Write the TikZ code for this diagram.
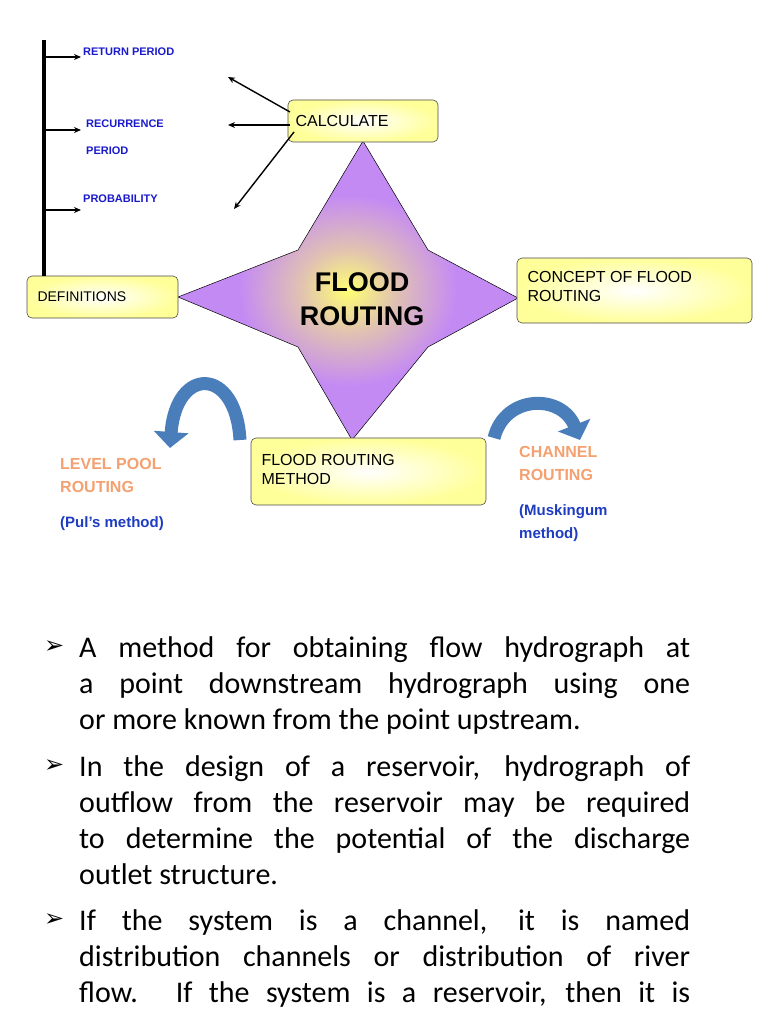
\documentclass[tikz,border=0pt]{standalone}
\usepackage{fontspec}
\setmainfont{Liberation Sans}
\newfontfamily\body{Carlito}
\newfontfamily\dv{DejaVu Sans}
\usetikzlibrary{arrows.meta,shapes.geometric}
\definecolor{lblue}{HTML}{1A1ACC}
\definecolor{dblue}{HTML}{1E3CC0}
\definecolor{orng}{HTML}{F4A070}
\definecolor{ybox}{HTML}{FFFF99}
\definecolor{purp}{HTML}{C48AF4}
\definecolor{arrb}{HTML}{4A7EBB}
\pgfdeclareradialshading{starsh}{\pgfpoint{0bp}{0bp}}{color(0bp)=(yellow!55!white); color(7bp)=(yellow!35!purp!80!white); color(16bp)=(purp); color(50bp)=(purp)}
\begin{document}
\begin{tikzpicture}[x=1pt,y=-1pt,
  box/.style={draw=black!70,rounded corners=5pt,inner color=white,outer color=ybox,line width=0.6pt},
  btxt/.style={font=\fontsize{16}{19}\selectfont,align=left,anchor=north west},
  def/.style={font=\bfseries\fontsize{11}{12}\selectfont,text=lblue,anchor=west,inner sep=0},
  blk/.style={-{Stealth[length=7pt,width=6pt]},line width=1.4pt},
  curv/.style={line width=13pt,draw=arrb,-{Triangle[width=34pt,length=16pt]}},
  para/.style={font=\body\fontsize{30}{36}\selectfont,anchor=north west,inner sep=0,align=left}]
\useasboundingbox (0,0) rectangle (768,1024);
% star
\shade[shading=starsh,draw=black,line width=0.5pt]
 (363,141) -- (428,250) -- (518,298) -- (428,347) -- (352,440) -- (298,347) -- (178,297) -- (298,250) -- cycle;
\node[font=\bfseries\fontsize{27}{34}\selectfont,align=center] (title) at (362,299) {FLOOD\\ROUTING};
% boxes
\draw[box] (288,100) rectangle (438,142);
\node[btxt] (calc) at (292,112) {CALCULATE};
\draw[box] (27,276) rectangle (178,318);
\node[btxt,font=\fontsize{14}{17}\selectfont] (defs) at (34,288) {DEFINITIONS};
\draw[box] (517,258) rectangle (752,323);
\node[btxt] (conc) at (524,268) {CONCEPT OF FLOOD\\ROUTING};
\draw[box] (251,438) rectangle (486,505);
\node[btxt] (meth) at (258,451) {FLOOD ROUTING\\METHOD};
% bracket
\coordinate (top) at (44,40); \coordinate (bot) at (44,276);
\draw[line width=4pt] (top) -- (bot);
\node[def] (rp) at (83,52) {RETURN PERIOD};
\node[def,align=left,font=\bfseries\fontsize{11}{27}\selectfont] (rc) at (86,137) {RECURRENCE\\PERIOD};
\node[def] (pr) at (83,199) {PROBABILITY};
\coordinate (b1) at (44,57); \coordinate (b2) at (44,130); \coordinate (b3) at (44,210);
\draw[blk] (b1) -- (81,57);
\draw[blk] (b2) -- (81,130);
\draw[blk] (b3) -- (81,210);
\coordinate (c1) at (290,112); \coordinate (c2) at (290,125); \coordinate (c3) at (294,132);
\coordinate (t1) at (228,77); \coordinate (t2) at (228,125); \coordinate (t3) at (234,209);
\draw[blk] (c1) -- (t1);
\draw[blk] (c2) -- (t2);
\draw[blk] (c3) -- (t3);
% curved arrows
\coordinate (la) at (240,440); \coordinate (lb) at (170,448);
\draw[curv] (la) .. controls (236,366) and (176,366) .. (lb);
\coordinate (ra) at (494,438); \coordinate (rb) at (580,440);
\draw[curv] (ra) .. controls (505,394) and (562,394) .. (rb);
% labels
\node[anchor=north west,inner sep=0,font=\bfseries\fontsize{16}{23}\selectfont,text=orng,align=left] (lp) at (60,458) {LEVEL POOL\\ROUTING};
\node[anchor=north west,inner sep=0,font=\bfseries\fontsize{15}{23}\selectfont,text=dblue] (pul) at (60,516) {(Pul's method)};
\node[anchor=north west,inner sep=0,font=\bfseries\fontsize{16}{23}\selectfont,text=orng,align=left] (ch) at (519,446) {CHANNEL\\ROUTING};
\node[anchor=north west,inner sep=0,font=\bfseries\fontsize{15}{23}\selectfont,text=dblue,align=left] (mk) at (519,504) {(Muskingum\\method)};
% body text
\foreach \y in {640,759,913} {\node[anchor=north west,inner sep=0,font=\dv\fontsize{24}{36}\selectfont] at (44,\y) {➢};}
\node[para] (p1) at (79,636) {\makebox[611pt][s]{A method for obtaining flow hydrograph at}\\\makebox[611pt][s]{a point downstream hydrograph using one}\\or more known from the point upstream.};
\node[para] (p2) at (79,755) {\makebox[611pt][s]{In the design of a reservoir, hydrograph of}\\\makebox[611pt][s]{outflow from the reservoir may be required}\\\makebox[611pt][s]{to determine the potential of the discharge}\\outlet structure.};
\node[para] (p3) at (79,909) {\makebox[611pt][s]{If the system is a channel, it is named}\\\makebox[611pt][s]{distribution channels or distribution of river}\\\makebox[611pt][s]{flow. If the system is a reservoir, then it is}};
\end{tikzpicture}
\end{document}
